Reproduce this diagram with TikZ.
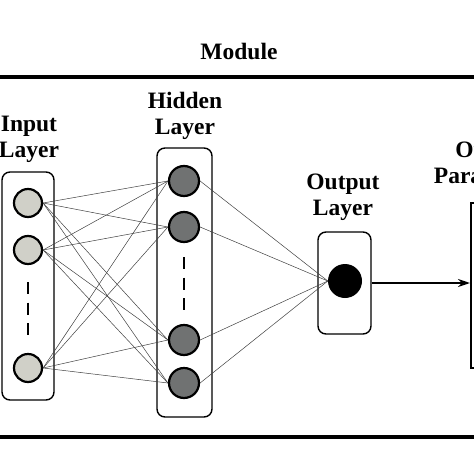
\documentclass[tikz,border=0pt]{standalone}
\usepackage{fontspec}
\setmainfont{Liberation Serif}
\usepackage{xcolor}
\usetikzlibrary{arrows.meta,positioning,calc}
\definecolor{ingray}{RGB}{208,208,200}
\definecolor{hidgray}{RGB}{112,114,114}
\tikzset{
  layerbox/.style={draw, line width=1.4pt, rounded corners=8pt, inner sep=0pt},
  parbox/.style={draw, line width=1.8pt, inner sep=0pt, anchor=north west},
  inneuron/.style={circle, draw, line width=2.2pt, fill=ingray, minimum size=28pt, inner sep=0pt},
  hidneuron/.style={circle, draw, line width=2.2pt, fill=hidgray, minimum size=30pt, inner sep=0pt},
  outneuron/.style={circle, fill=black, minimum size=34pt, inner sep=0pt},
  lbl/.style={font=\bfseries\fontsize{23.5}{26}\selectfont, align=center, inner sep=0pt, anchor=north},
  link/.style={black!75, line width=0.5pt},
  gap/.style={line width=2.4pt, dash pattern=on 12pt off 8.5pt},
  rulel/.style={line width=4pt},
  arr/.style={-{Stealth[length=12pt,width=8pt]}, line width=2.4pt},
}
\begin{document}
\begin{tikzpicture}[x=1pt, y=-1pt]
  \useasboundingbox (0,0) rectangle (474,474);
  \clip (0,0) rectangle (474,474);
  % module frame
  \node[lbl] (mod) at (239,43) {Module};
  \draw[rulel] (0,77) -- (474,77);
  \draw[rulel] (0,437) -- (474,437);
  % layer boxes
  \node[layerbox, minimum width=52pt, minimum height=228pt] (ibox) at (28,286) {};
  \node[layerbox, minimum width=55pt, minimum height=269pt] (hbox) at (184.5,282.5) {};
  \node[layerbox, minimum width=53pt, minimum height=102pt] (obox) at (344.5,283) {};
  \node[parbox, minimum width=80pt, minimum height=165pt] (par) at (470,202) {};
  % labels
  \node[lbl] (ilbl) at (29,116) {Input\\Layer};
  \node[lbl] (hlbl) at (185,92) {Hidden\\Layer};
  \node[lbl] (olbl) at (343,174) {Output\\Layer};
  \node[lbl] (plbl) at (492,142) {Output\\Parameters};
  % neurons
  \node[inneuron] (i1) at (28,203) {};
  \node[inneuron] (i2) at (28,250) {};
  \node[inneuron] (i3) at (28,368) {};
  \node[hidneuron] (h1) at (184,181) {};
  \node[hidneuron] (h2) at (184,227) {};
  \node[hidneuron] (h3) at (184,340) {};
  \node[hidneuron] (h4) at (184,383) {};
  \node[outneuron] (out) at (345,281) {};
  \draw[gap] (28,282) -- (28,335);
  \draw[gap] (184,257) -- (184,310);
  % weights
  \foreach \i in {i1,i2,i3}
    \foreach \h in {h1,h2,h3,h4}
      \draw[link] (\i.east) -- (\h.west);
  \foreach \h in {h1,h2,h3,h4}
    \draw[link] (\h.east) -- (out.west);
  \draw[arr] (obox.east) -- (obox.east -| par.west);
\end{tikzpicture}
\end{document}
